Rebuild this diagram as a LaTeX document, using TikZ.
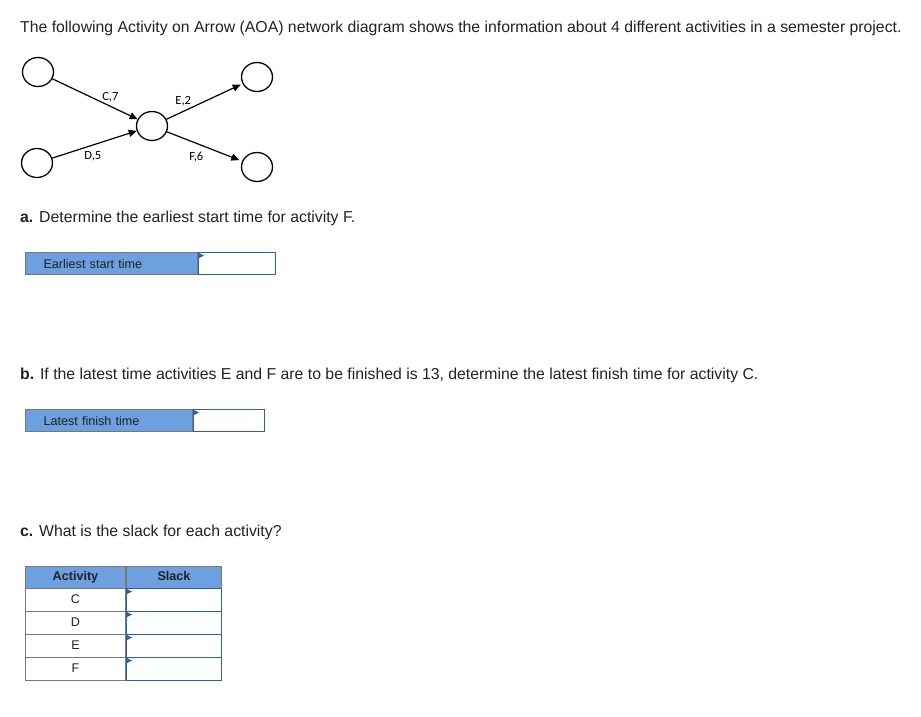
\documentclass[tikz,border=0pt]{standalone}
\usepackage{fontspec}
\setmainfont{Liberation Sans}
\newfontfamily\arcfont{Carlito}
\usetikzlibrary{arrows.meta,positioning,shapes.geometric}
\definecolor{hdrblue}{RGB}{108,160,222}
\definecolor{boxblue}{RGB}{46,95,165}
\definecolor{gridgray}{RGB}{120,120,120}
\definecolor{inkgray}{RGB}{34,34,34}
\newcommand\rowh{23}

\begin{document}
\begin{tikzpicture}[x=1pt,y=-1pt,
  event/.style={ellipse,draw,line width=1.3pt,minimum width=31pt,minimum height=29pt,inner sep=0pt},
  act/.style={-{Triangle[length=8pt,width=7pt]},line width=1.2pt},
  lbl/.style={font=\arcfont\fontsize{12.5}{14}\selectfont},
  qtext/.style={anchor=base west,inner sep=0pt,text=inkgray,font=\fontsize{15.8}{18}\selectfont},
  tagbox/.style={draw=gridgray,fill=hdrblue,line width=1pt,anchor=north west,inner ysep=0pt,inner xsep=18pt,
    minimum height=22pt,align=left,text=inkgray,font=\fontsize{12.6}{14}\selectfont},
  answer/.style={draw=boxblue,fill=white,line width=1.3pt,anchor=north west,inner sep=0pt,minimum height=22pt},
  cell/.style={draw=gridgray,line width=1pt,anchor=north west,inner sep=0pt,minimum width=100pt,
    minimum height=\rowh pt,text height=9pt,text depth=2.5pt,text=inkgray,font=\fontsize{12.6}{14}\selectfont}]
\useasboundingbox (0,0) rectangle (921,716);

\node at (20,32.7) [qtext] (intro) {The following Activity on Arrow (AOA) network diagram shows the information about 4 different activities in a semester project.};

%AOA network
\node at (38,72) [event] (n1) {};
\node at (37,163) [event] (n2) {};
\node at (152,126) [event] (n3) {};
\node at (257,77) [event] (n4) {};
\node at (257,167) [event] (n5) {};

\draw [act] (n1) -- (n3) node[pos=0.68, lbl, above=0pt] (lc) {C,7};
\draw [act] (n2) -- (n3) node[pos=0.48, lbl, below=2pt] (ld) {D,5};
\draw [act, shorten >=2pt] (n3) -- (n4) node[pos=0.22, lbl, above=1pt] (le) {E,2};
\draw [act, shorten >=3pt] (n3) -- (n5) node[pos=0.39, lbl, below=5pt] (lf) {F,6};

%part a
\node at (20,222.7) [qtext] (qa) {\textbf{a.} Determine the earliest start time for activity F.};
\node at (25,252) [tagbox, text width=136pt] (est) {Earliest start time};
\node at (est.north east) [answer, minimum width=77pt] (esta) {};
\fill [boxblue] ([shift={(1,1)}]esta.north west) -- ++(5,2.5) -- ++(-5,2.5) -- cycle;

%part b
\node at (20,379.5) [qtext] (qb) {\textbf{b.} If the latest time activities E and F are to be finished is 13, determine the latest finish time for activity C.};
\node at (25,409) [tagbox, text width=131pt] (lft) {Latest finish time};
\node at (lft.north east) [answer, minimum width=71pt] (lfta) {};
\fill [boxblue] ([shift={(1,1)}]lfta.north west) -- ++(5,2.5) -- ++(-5,2.5) -- cycle;

%part c
\node at (20,536.7) [qtext] (qc) {\textbf{c.} What is the slack for each activity?};
\node at (25,566) [cell, fill=hdrblue, font=\bfseries\fontsize{12.6}{14}\selectfont, minimum height=22pt] (hact) {Activity};
\node at (hact.north east) [cell, fill=hdrblue, font=\bfseries\fontsize{12.6}{14}\selectfont, minimum width=95pt, minimum height=22pt] (hslack) {Slack};
\foreach \a [count=\i] in {C,D,E,F} {
  \node at (25,565+\i*\rowh) [cell] (act\i) {\a};
  \node at (act\i.north east) [answer, minimum width=95pt, minimum height=\rowh pt] (slack\i) {};
  \fill [boxblue] ([shift={(1,1)}]slack\i.north west) -- ++(5,2.5) -- ++(-5,2.5) -- cycle;
}
\end{tikzpicture}
\end{document}
